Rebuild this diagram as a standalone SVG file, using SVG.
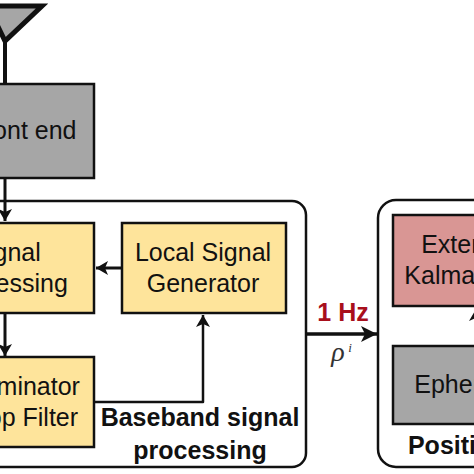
<svg xmlns="http://www.w3.org/2000/svg" width="474" height="474" viewBox="0 0 474 474">
<style>
text{font-family:"Liberation Sans",Arial,sans-serif;font-size:25px;fill:#111;text-anchor:middle}
.b{font-weight:bold;font-size:25px}
.y{fill:#fee49b;stroke:#111;stroke-width:2.5}
.g{fill:#a6a6a6;stroke:#111;stroke-width:2.5}
.r{fill:#d99694;stroke:#111;stroke-width:2.5}
.c{fill:none;stroke:#111;stroke-linejoin:round}
.o{fill:none;stroke:#111;stroke-width:2.5}
</style>
<defs>
<marker id="a" markerUnits="userSpaceOnUse" markerWidth="14" markerHeight="14" refX="12" refY="7" orient="auto"><path d="M0,0L12,7L0,14L3,7Z" fill="#111"/></marker>
<marker id="l" markerUnits="userSpaceOnUse" markerWidth="18" markerHeight="16" refX="16" refY="8" orient="auto"><path d="M0,0L16,8L0,16L4,8Z" fill="#111"/></marker>
</defs>
<rect width="474" height="474" fill="#fff"/>
<g id="baseband"><rect class="o" x="-40" y="201" width="346" height="266" rx="14"/><text class="b" x="200" y="426">Baseband signal</text><text class="b" x="200" y="459">processing</text></g>
<g id="positioning"><rect class="o" x="378" y="200" width="140" height="267" rx="18"/><text class="b" x="476" y="454">Positioning</text></g>
<g id="antenna"><path d="M-12,6H42L5,41Z" fill="#a6a6a6" stroke="#111" stroke-width="5"/></g>
<g id="frontend"><rect class="g" x="-40" y="84" width="134" height="94"/><text x="23" y="139">Front end</text></g>
<g id="signal"><rect class="y" x="-40" y="223" width="134" height="90"/><text x="6" y="261">Signal</text><text x="6" y="292">Processing</text></g>
<g id="local"><rect class="y" x="122" y="223" width="164" height="90"/><text x="203" y="261">Local Signal</text><text x="203" y="292">Generator</text></g>
<g id="disc"><rect class="y" x="-40" y="357" width="134" height="90"/><text x="7" y="395">Discriminator</text><text x="19" y="426">Loop Filter</text></g>
<g id="ekf"><rect class="r" x="393" y="215" width="150" height="91"/><text x="474" y="253">Extended</text><text x="478" y="284">Kalman Filter</text></g>
<g id="ephem"><rect class="g" x="393" y="346" width="150" height="78"/><text x="474" y="393">Ephemeris</text></g>
<g id="connectors">
<path class="c" stroke-width="4" d="M5,41V84"/>
<path class="c" stroke-width="3" d="M5,178V221" marker-end="url(#a)"/>
<path class="c" stroke-width="3" d="M121,268H96" marker-end="url(#a)"/>
<path class="c" stroke-width="3" d="M5,313V356" marker-end="url(#a)"/>
<path class="c" stroke-width="2.5" d="M94,402H203V315" marker-end="url(#a)"/>
<path class="c" stroke-width="3.5" d="M305,334H377" marker-end="url(#l)"/>
<path class="c" stroke-width="2.5" d="M476,346V309" marker-end="url(#a)"/>
</g>
<text x="343" y="321" style="font-size:25px;font-weight:bold;fill:#a80f1c">1 Hz</text>
<text x="338" y="361" style="font-family:'Liberation Serif',serif;font-style:italic;font-size:28px;fill:#333">ρ</text>
<text x="350" y="352" style="font-family:'Liberation Serif',serif;font-style:italic;font-size:13px;fill:#333">i</text>
</svg>
